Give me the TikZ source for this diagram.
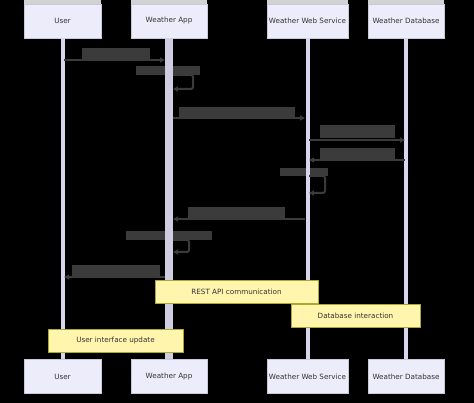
\documentclass[tikz,border=0pt]{standalone}
\usepackage{fontspec}
\setmainfont{DejaVu Sans}
\usetikzlibrary{arrows.meta}
\definecolor{actorfill}{HTML}{ECECFA}
\definecolor{actorline}{HTML}{C9C9DA}
\definecolor{bandgray}{HTML}{D2D2D2}
\definecolor{lifecol}{HTML}{D9D5EC}
\definecolor{appcol}{HTML}{D0CCE2}
\definecolor{msggray}{HTML}{3B3B3B}
\definecolor{notefill}{HTML}{FFF5AD}
\definecolor{noteline}{HTML}{AAAA33}
\definecolor{txtcol}{HTML}{333333}
\begin{document}
\begin{tikzpicture}[x=1pt,y=-1pt,
  actor/.style={draw=actorline, line width=0.6pt, fill=actorfill, minimum height=34pt,
    inner sep=0pt, font=\fontsize{7.2}{8}\selectfont, text=txtcol},
  lifeline/.style={draw=lifecol, line width=4pt},
  applife/.style={draw=appcol, line width=8pt},
  lbl/.style={fill=msggray, draw=none, inner sep=0pt},
  msg/.style={draw=msggray, line width=2pt, -{Triangle[length=5pt,width=5pt]}},
  loopmsg/.style={draw=msggray, line width=2pt, rounded corners=2pt, -{Triangle[length=5pt,width=5pt]}},
  note/.style={draw=noteline, line width=0.6pt, fill=notefill, minimum height=23pt,
    inner sep=0pt, font=\fontsize{7.2}{8}\selectfont, text=txtcol}]
\useasboundingbox (0,0) rectangle (474,403);
\fill[black] (0,0) rectangle (474,403);

% top band
\fill[bandgray] (24,0) rectangle (101,4);
\fill[bandgray] (131,0) rectangle (207,4);
\fill[bandgray] (267,0) rectangle (348,4);
\fill[bandgray] (368,0) rectangle (444,4);

% actors
\node[actor, minimum width=77pt] (u)  at (62.5,21) {User};
\node[actor, minimum width=76pt] (a)  at (169,21) {Weather App};
\node[actor, minimum width=81pt] (w)  at (307.5,21) {Weather Web Service};
\node[actor, minimum width=76pt] (d)  at (406,21) {Weather Database};
\node[actor, minimum width=77pt] (ub) at (62.5,376.5) {User};
\node[actor, minimum width=76pt] (ab) at (169,376.5) {Weather App};
\node[actor, minimum width=81pt] (wb) at (307.5,376.5) {Weather Web Service};
\node[actor, minimum width=76pt] (db) at (406,376.5) {Weather Database};

% message label blocks (unreadable text, drawn as blocks)
\node[lbl, minimum width=68pt, minimum height=12pt] (l1) at (116,54) {};
\node[lbl, minimum width=64pt, minimum height=9pt] (l2) at (168,71) {};
\node[lbl, minimum width=116pt, minimum height=12pt] (l3) at (237,113) {};
\node[lbl, minimum width=75pt, minimum height=13pt] (l4) at (357.5,132) {};
\node[lbl, minimum width=75pt, minimum height=12pt] (l5) at (357.5,154) {};
\node[lbl, minimum width=48pt, minimum height=8pt] (l6) at (304,172) {};
\node[lbl, minimum width=97pt, minimum height=12pt] (l7) at (236.5,213) {};
\node[lbl, minimum width=86pt, minimum height=9pt] (l8) at (169,236) {};
\node[lbl, minimum width=88pt, minimum height=12pt] (l9) at (116,271) {};

% lifelines
\draw[lifeline] (u.south) -- (ub.north);
\draw[applife] (a.south) -- (ab.north);
\draw[lifeline] (w.south) -- (wb.north);
\draw[lifeline] (d.south) -- (db.north);

% message end points
\coordinate (m1s) at (64,60);   \coordinate (m1e) at (165,60);
\coordinate (m2s) at (173,75);  \coordinate (m2e) at (173,89);
\coordinate (m3s) at (173,118); \coordinate (m3e) at (305,118);
\coordinate (m4s) at (309,140); \coordinate (m4e) at (405,140);
\coordinate (m5s) at (405,160); \coordinate (m5e) at (309,160);
\coordinate (m6s) at (309,176); \coordinate (m6e) at (309,193);
\coordinate (m7s) at (305,219); \coordinate (m7e) at (173,219);
\coordinate (m8s) at (173,240); \coordinate (m8e) at (173,252);
\coordinate (m9s) at (165,277); \coordinate (m9e) at (64,277);

\draw[msg] (m1s) -- (m1e);
\draw[loopmsg] (m2s) -- ++(20,0) |- (m2e);
\draw[msg] (m3s) -- (m3e);
\draw[msg] (m4s) -- (m4e);
\draw[msg] (m5s) -- (m5e);
\draw[loopmsg] (m6s) -- ++(16,0) |- (m6e);
\draw[msg] (m7s) -- (m7e);
\draw[loopmsg] (m8s) -- ++(16,0) |- (m8e);
\draw[msg] (m9s) -- (m9e);

% notes
\node[note, minimum width=163pt] (n1) at (236.5,291.5) {REST API communication};
\node[note, minimum width=129pt] (n2) at (355.5,315.5) {Database interaction};
\node[note, minimum width=135pt] (n3) at (115.5,340.5) {User interface update};
\end{tikzpicture}
\end{document}
